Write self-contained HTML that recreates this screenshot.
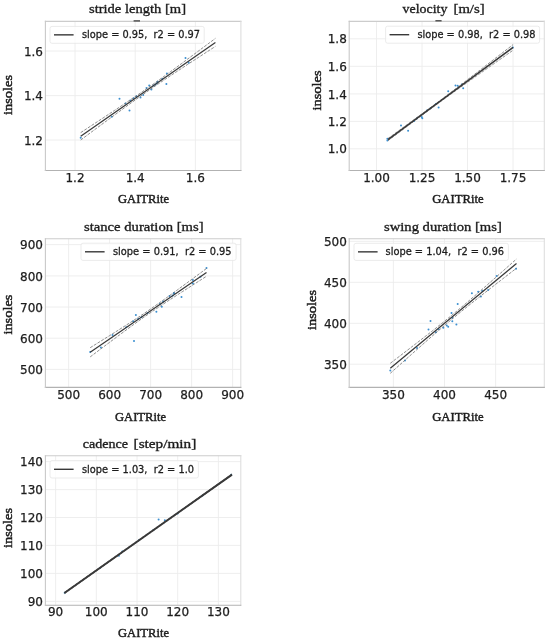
<!DOCTYPE html>
<html lang="en">
<head>
<meta charset="utf-8">
<title>Insoles vs GAITRite regression plots</title>
<style>
html,body{margin:0;padding:0;background:#fff;}
body{width:550px;height:640px;overflow:hidden;}
svg{display:block;}
.t{font-family:"Liberation Serif", "DejaVu Serif", serif;font-size:12.6px;fill:#1c1c1c;stroke:#1c1c1c;stroke-width:0.32px;}
.al{font-family:"Liberation Serif", "DejaVu Serif", serif;font-size:13.2px;fill:#1c1c1c;stroke:#1c1c1c;stroke-width:0.45px;}
.yl{font-size:13.2px;}
.tk{font-family:"DejaVu Sans", "Liberation Sans", sans-serif;font-size:12px;fill:#1c1c1c;stroke:#1c1c1c;stroke-width:0.25px;}
.lg{font-family:"DejaVu Sans", "Liberation Sans", sans-serif;font-size:9.8px;fill:#1c1c1c;stroke:#1c1c1c;stroke-width:0.28px;}
</style>
</head>
<body>
<svg width="550" height="640" viewBox="0 0 550 640">
<defs><filter id="soft" x="-2%" y="-2%" width="104%" height="104%"><feGaussianBlur stdDeviation="0.45"/></filter></defs>
<rect x="0" y="0" width="550" height="640" fill="#ffffff"/>
<g filter="url(#soft)">
<g id="p1">
<line x1="75" y1="21.4" x2="75" y2="170.5" stroke="#ececec" stroke-width="0.9"/>
<line x1="135.2" y1="21.4" x2="135.2" y2="170.5" stroke="#ececec" stroke-width="0.9"/>
<line x1="195.4" y1="21.4" x2="195.4" y2="170.5" stroke="#ececec" stroke-width="0.9"/>
<line x1="45.4" y1="140" x2="240.9" y2="140" stroke="#ececec" stroke-width="0.9"/>
<line x1="45.4" y1="95.6" x2="240.9" y2="95.6" stroke="#ececec" stroke-width="0.9"/>
<line x1="45.4" y1="51" x2="240.9" y2="51" stroke="#ececec" stroke-width="0.9"/>
<circle cx="80.7" cy="137.7" r="1" fill="#3b8fd0"/>
<circle cx="111.8" cy="116.7" r="1" fill="#3b8fd0"/>
<circle cx="119.5" cy="98.7" r="1" fill="#3b8fd0"/>
<circle cx="125.5" cy="103.6" r="1" fill="#3b8fd0"/>
<circle cx="129.5" cy="110.4" r="1" fill="#3b8fd0"/>
<circle cx="130.4" cy="100.4" r="1" fill="#3b8fd0"/>
<circle cx="133.6" cy="98.2" r="1" fill="#3b8fd0"/>
<circle cx="136.4" cy="96.3" r="1" fill="#3b8fd0"/>
<circle cx="140.5" cy="97.6" r="1" fill="#3b8fd0"/>
<circle cx="143.2" cy="94.9" r="1" fill="#3b8fd0"/>
<circle cx="146.5" cy="88.1" r="1" fill="#3b8fd0"/>
<circle cx="149.2" cy="85.4" r="1" fill="#3b8fd0"/>
<circle cx="151.4" cy="89.5" r="1" fill="#3b8fd0"/>
<circle cx="153.5" cy="85.4" r="1" fill="#3b8fd0"/>
<circle cx="155.5" cy="84.5" r="1" fill="#3b8fd0"/>
<circle cx="156.8" cy="83.2" r="1" fill="#3b8fd0"/>
<circle cx="157.6" cy="81.8" r="1" fill="#3b8fd0"/>
<circle cx="162.3" cy="79.1" r="1" fill="#3b8fd0"/>
<circle cx="166.4" cy="84" r="1" fill="#3b8fd0"/>
<circle cx="166.9" cy="73.6" r="1" fill="#3b8fd0"/>
<circle cx="185.5" cy="58.1" r="1" fill="#3b8fd0"/>
<circle cx="188.7" cy="62.7" r="1" fill="#3b8fd0"/>
<path d="M80.7 132.6 L86.31 128.94 L91.92 125.27 L97.54 121.59 L103.15 117.91 L108.76 114.22 L114.38 110.51 L119.99 106.79 L125.6 103.05 L131.21 99.28 L136.82 95.48 L142.44 91.64 L148.05 87.75 L153.66 83.81 L159.28 79.81 L164.89 75.77 L170.5 71.69 L176.11 67.58 L181.72 63.44 L187.34 59.29 L192.95 55.13 L198.56 50.96 L204.17 46.78 L209.79 42.59 L215.4 38.4" fill="none" stroke="#6a6a6a" stroke-width="0.75" stroke-dasharray="3 1.3"/>
<path d="M80.7 140 L86.31 135.84 L91.92 131.68 L97.54 127.53 L103.15 123.39 L108.76 119.26 L114.38 115.14 L119.99 111.03 L125.6 106.95 L131.21 102.89 L136.82 98.87 L142.44 94.89 L148.05 90.95 L153.66 87.07 L159.28 83.24 L164.89 79.46 L170.5 75.71 L176.11 72 L181.72 68.31 L187.34 64.63 L192.95 60.97 L198.56 57.32 L204.17 53.67 L209.79 50.03 L215.4 46.4" fill="none" stroke="#6a6a6a" stroke-width="0.75" stroke-dasharray="3 1.3"/>
<line x1="80.7" y1="136.3" x2="215.4" y2="42.4" stroke="#383838" stroke-width="1.25"/>
<line x1="45.4" y1="21.4" x2="240.9" y2="21.4" stroke="#cccccc" stroke-width="1.1" stroke-linecap="square"/>
<line x1="240.9" y1="21.4" x2="240.9" y2="170.5" stroke="#dedede" stroke-width="1.1" stroke-linecap="square"/>
<line x1="45.4" y1="170.5" x2="240.9" y2="170.5" stroke="#b2b2b2" stroke-width="1.1" stroke-linecap="square"/>
<line x1="45.4" y1="21.4" x2="45.4" y2="170.5" stroke="#c9c9c9" stroke-width="1.1" stroke-linecap="square"/>
<rect x="50" y="26.4" width="154.2" height="16.9" rx="2" ry="2" fill="#ffffff" fill-opacity="0.8" stroke="#e6e6e6" stroke-width="0.8"/>
<line x1="54" y1="34.85" x2="73.6" y2="34.85" stroke="#383838" stroke-width="1.4"/>
<text class="lg" x="82" y="38.45" textLength="118" lengthAdjust="spacingAndGlyphs" xml:space="preserve">slope = 0.95,  r2 = 0.97</text>
<text class="t" x="89" y="13.2" textLength="97" lengthAdjust="spacingAndGlyphs">stride length [m]</text>
<line x1="133.6" y1="20.9" x2="140" y2="20.9" stroke="#333" stroke-width="1.2"/>
<text class="tk" x="75" y="181.6" text-anchor="middle">1.2</text>
<text class="tk" x="135.2" y="181.6" text-anchor="middle">1.4</text>
<text class="tk" x="195.4" y="181.6" text-anchor="middle">1.6</text>
<text class="tk" x="43" y="144.6" text-anchor="end">1.2</text>
<text class="tk" x="43" y="100.2" text-anchor="end">1.4</text>
<text class="tk" x="43" y="55.6" text-anchor="end">1.6</text>
<text class="al" x="118" y="203" textLength="51" lengthAdjust="spacingAndGlyphs">GAITRite</text>
<text class="al yl" transform="translate(12.4 95) rotate(-90)" text-anchor="middle" textLength="40" lengthAdjust="spacingAndGlyphs">insoles</text>
</g>
<g id="p2">
<line x1="376.5" y1="21.4" x2="376.5" y2="170.5" stroke="#ececec" stroke-width="0.9"/>
<line x1="422" y1="21.4" x2="422" y2="170.5" stroke="#ececec" stroke-width="0.9"/>
<line x1="467.5" y1="21.4" x2="467.5" y2="170.5" stroke="#ececec" stroke-width="0.9"/>
<line x1="513" y1="21.4" x2="513" y2="170.5" stroke="#ececec" stroke-width="0.9"/>
<line x1="349.2" y1="148.8" x2="544.3" y2="148.8" stroke="#ececec" stroke-width="0.9"/>
<line x1="349.2" y1="121.4" x2="544.3" y2="121.4" stroke="#ececec" stroke-width="0.9"/>
<line x1="349.2" y1="93.9" x2="544.3" y2="93.9" stroke="#ececec" stroke-width="0.9"/>
<line x1="349.2" y1="66.3" x2="544.3" y2="66.3" stroke="#ececec" stroke-width="0.9"/>
<line x1="349.2" y1="38.8" x2="544.3" y2="38.8" stroke="#ececec" stroke-width="0.9"/>
<circle cx="387.4" cy="140.4" r="1" fill="#3b8fd0"/>
<circle cx="387.4" cy="138.7" r="1" fill="#3b8fd0"/>
<circle cx="401" cy="125.4" r="1" fill="#3b8fd0"/>
<circle cx="408.1" cy="130.8" r="1" fill="#3b8fd0"/>
<circle cx="414.1" cy="121" r="1" fill="#3b8fd0"/>
<circle cx="416.8" cy="118.5" r="1" fill="#3b8fd0"/>
<circle cx="421.7" cy="116.9" r="1" fill="#3b8fd0"/>
<circle cx="422.3" cy="118.3" r="1" fill="#3b8fd0"/>
<circle cx="426.9" cy="110.4" r="1" fill="#3b8fd0"/>
<circle cx="430.5" cy="108.2" r="1" fill="#3b8fd0"/>
<circle cx="435.9" cy="104.1" r="1" fill="#3b8fd0"/>
<circle cx="438.6" cy="107.4" r="1" fill="#3b8fd0"/>
<circle cx="448.2" cy="91.3" r="1" fill="#3b8fd0"/>
<circle cx="455.5" cy="85.5" r="1" fill="#3b8fd0"/>
<circle cx="457.7" cy="85.8" r="1" fill="#3b8fd0"/>
<circle cx="461.8" cy="84.5" r="1" fill="#3b8fd0"/>
<circle cx="463.2" cy="88.3" r="1" fill="#3b8fd0"/>
<circle cx="512.8" cy="47.6" r="1" fill="#3b8fd0"/>
<path d="M388 138.5 L393.21 134.73 L398.43 130.95 L403.64 127.17 L408.85 123.39 L414.06 119.59 L419.27 115.79 L424.49 111.98 L429.7 108.16 L434.91 104.32 L440.12 100.47 L445.34 96.56 L450.55 92.63 L455.76 88.66 L460.98 84.69 L466.19 80.7 L471.4 76.7 L476.61 72.69 L481.83 68.69 L487.04 64.68 L492.25 60.66 L497.46 56.65 L502.68 52.63 L507.89 48.62 L513.1 44.6" fill="none" stroke="#6a6a6a" stroke-width="0.75" stroke-dasharray="3 1.3"/>
<path d="M388 140.7 L393.21 136.79 L398.43 132.88 L403.64 128.98 L408.85 125.08 L414.06 121.19 L419.27 117.31 L424.49 113.44 L429.7 109.57 L434.91 105.73 L440.12 101.9 L445.34 98.12 L450.55 94.37 L455.76 90.65 L460.98 86.95 L466.19 83.25 L471.4 79.57 L476.61 75.89 L481.83 72.21 L487.04 68.54 L492.25 64.87 L497.46 61.2 L502.68 57.53 L507.89 53.87 L513.1 50.2" fill="none" stroke="#6a6a6a" stroke-width="0.75" stroke-dasharray="3 1.3"/>
<line x1="388" y1="139.6" x2="513.1" y2="47.4" stroke="#383838" stroke-width="1.6"/>
<line x1="349.2" y1="21.4" x2="544.3" y2="21.4" stroke="#cccccc" stroke-width="1.1" stroke-linecap="square"/>
<line x1="544.3" y1="21.4" x2="544.3" y2="170.5" stroke="#dedede" stroke-width="1.1" stroke-linecap="square"/>
<line x1="349.2" y1="170.5" x2="544.3" y2="170.5" stroke="#b2b2b2" stroke-width="1.1" stroke-linecap="square"/>
<line x1="349.2" y1="21.4" x2="349.2" y2="170.5" stroke="#c9c9c9" stroke-width="1.1" stroke-linecap="square"/>
<rect x="385.6" y="26.2" width="154" height="17" rx="2" ry="2" fill="#ffffff" fill-opacity="0.8" stroke="#e6e6e6" stroke-width="0.8"/>
<line x1="389.6" y1="34.7" x2="409.2" y2="34.7" stroke="#383838" stroke-width="1.4"/>
<text class="lg" x="417.4" y="38.3" textLength="118.2" lengthAdjust="spacingAndGlyphs" xml:space="preserve">slope = 0.98,  r2 = 0.98</text>
<text class="t" y="12.9"><tspan x="402.6" textLength="44.8" lengthAdjust="spacingAndGlyphs">velocity</tspan> <tspan x="453.5" textLength="31.1" lengthAdjust="spacingAndGlyphs">[m/s]</tspan></text>
<line x1="435.4" y1="20.8" x2="441.6" y2="20.8" stroke="#333" stroke-width="1.2"/>
<text class="tk" x="376.5" y="181.6" text-anchor="middle">1.00</text>
<text class="tk" x="422" y="181.6" text-anchor="middle">1.25</text>
<text class="tk" x="467.5" y="181.6" text-anchor="middle">1.50</text>
<text class="tk" x="513" y="181.6" text-anchor="middle">1.75</text>
<text class="tk" x="346.8" y="153.4" text-anchor="end">1.0</text>
<text class="tk" x="346.8" y="126" text-anchor="end">1.2</text>
<text class="tk" x="346.8" y="98.5" text-anchor="end">1.4</text>
<text class="tk" x="346.8" y="70.9" text-anchor="end">1.6</text>
<text class="tk" x="346.8" y="43.4" text-anchor="end">1.8</text>
<text class="al" x="432.2" y="203" textLength="51.4" lengthAdjust="spacingAndGlyphs">GAITRite</text>
<text class="al yl" transform="translate(321 90.5) rotate(-90)" text-anchor="middle" textLength="40" lengthAdjust="spacingAndGlyphs">insoles</text>
</g>
<g id="p3">
<line x1="68.6" y1="238.8" x2="68.6" y2="387.4" stroke="#ececec" stroke-width="0.9"/>
<line x1="109.6" y1="238.8" x2="109.6" y2="387.4" stroke="#ececec" stroke-width="0.9"/>
<line x1="150.6" y1="238.8" x2="150.6" y2="387.4" stroke="#ececec" stroke-width="0.9"/>
<line x1="191.6" y1="238.8" x2="191.6" y2="387.4" stroke="#ececec" stroke-width="0.9"/>
<line x1="232.6" y1="238.8" x2="232.6" y2="387.4" stroke="#ececec" stroke-width="0.9"/>
<line x1="45.4" y1="369.4" x2="240.8" y2="369.4" stroke="#ececec" stroke-width="0.9"/>
<line x1="45.4" y1="338.2" x2="240.8" y2="338.2" stroke="#ececec" stroke-width="0.9"/>
<line x1="45.4" y1="307" x2="240.8" y2="307" stroke="#ececec" stroke-width="0.9"/>
<line x1="45.4" y1="275.9" x2="240.8" y2="275.9" stroke="#ececec" stroke-width="0.9"/>
<line x1="45.4" y1="244.6" x2="240.8" y2="244.6" stroke="#ececec" stroke-width="0.9"/>
<circle cx="90.2" cy="352" r="1" fill="#3b8fd0"/>
<circle cx="100.9" cy="347.4" r="1" fill="#3b8fd0"/>
<circle cx="112.5" cy="335" r="1" fill="#3b8fd0"/>
<circle cx="126.2" cy="327.2" r="1" fill="#3b8fd0"/>
<circle cx="133.2" cy="321.3" r="1" fill="#3b8fd0"/>
<circle cx="135.9" cy="315" r="1" fill="#3b8fd0"/>
<circle cx="134" cy="340.9" r="1" fill="#3b8fd0"/>
<circle cx="138.1" cy="319.1" r="1" fill="#3b8fd0"/>
<circle cx="141.4" cy="317.2" r="1" fill="#3b8fd0"/>
<circle cx="147.6" cy="313.1" r="1" fill="#3b8fd0"/>
<circle cx="156.4" cy="311.7" r="1" fill="#3b8fd0"/>
<circle cx="159.9" cy="304.1" r="1" fill="#3b8fd0"/>
<circle cx="161.8" cy="306.8" r="1" fill="#3b8fd0"/>
<circle cx="163.2" cy="301.4" r="1" fill="#3b8fd0"/>
<circle cx="169.5" cy="295.9" r="1" fill="#3b8fd0"/>
<circle cx="172.7" cy="295.4" r="1" fill="#3b8fd0"/>
<circle cx="174.1" cy="293.2" r="1" fill="#3b8fd0"/>
<circle cx="173.8" cy="293.2" r="1" fill="#3b8fd0"/>
<circle cx="181.5" cy="297" r="1" fill="#3b8fd0"/>
<circle cx="192.9" cy="279.9" r="1" fill="#3b8fd0"/>
<circle cx="192.9" cy="283.4" r="1" fill="#3b8fd0"/>
<circle cx="200.5" cy="276.8" r="1" fill="#3b8fd0"/>
<circle cx="206.5" cy="268.1" r="1" fill="#3b8fd0"/>
<path d="M90.2 347.7 L95.05 344.69 L99.89 341.68 L104.74 338.66 L109.58 335.64 L114.43 332.6 L119.28 329.55 L124.12 326.48 L128.97 323.38 L133.81 320.25 L138.66 317.07 L143.5 313.84 L148.35 310.55 L153.2 307.2 L158.04 303.8 L162.89 300.37 L167.73 296.9 L172.58 293.4 L177.43 289.88 L182.27 286.34 L187.12 282.79 L191.96 279.23 L196.81 275.66 L201.65 272.08 L206.5 268.5" fill="none" stroke="#6a6a6a" stroke-width="0.75" stroke-dasharray="3 1.3"/>
<path d="M90.2 356.9 L95.05 353.25 L99.89 349.6 L104.74 345.96 L109.58 342.33 L114.43 338.71 L119.28 335.1 L124.12 331.52 L128.97 327.95 L133.81 324.43 L138.66 320.94 L143.5 317.51 L148.35 314.15 L153.2 310.84 L158.04 307.58 L162.89 304.36 L167.73 301.17 L172.58 298.01 L177.43 294.87 L182.27 291.75 L187.12 288.64 L191.96 285.55 L196.81 282.46 L201.65 279.38 L206.5 276.3" fill="none" stroke="#6a6a6a" stroke-width="0.75" stroke-dasharray="3 1.3"/>
<line x1="90.2" y1="352.3" x2="206.5" y2="272.4" stroke="#383838" stroke-width="1.25"/>
<line x1="45.4" y1="238.8" x2="240.8" y2="238.8" stroke="#cccccc" stroke-width="1.1" stroke-linecap="square"/>
<line x1="240.8" y1="238.8" x2="240.8" y2="387.4" stroke="#dedede" stroke-width="1.1" stroke-linecap="square"/>
<line x1="45.4" y1="387.4" x2="240.8" y2="387.4" stroke="#b2b2b2" stroke-width="1.1" stroke-linecap="square"/>
<line x1="45.4" y1="238.8" x2="45.4" y2="387.4" stroke="#c9c9c9" stroke-width="1.1" stroke-linecap="square"/>
<rect x="81" y="243.2" width="155.1" height="17.2" rx="2" ry="2" fill="#ffffff" fill-opacity="0.8" stroke="#e6e6e6" stroke-width="0.8"/>
<line x1="85" y1="251.8" x2="104.6" y2="251.8" stroke="#383838" stroke-width="1.4"/>
<text class="lg" x="113" y="255.4" textLength="118.6" lengthAdjust="spacingAndGlyphs" xml:space="preserve">slope = 0.91,  r2 = 0.95</text>
<text class="t" x="84" y="230.5" textLength="119.6" lengthAdjust="spacingAndGlyphs">stance duration [ms]</text>
<text class="tk" x="68.6" y="398.5" text-anchor="middle">500</text>
<text class="tk" x="109.6" y="398.5" text-anchor="middle">600</text>
<text class="tk" x="150.6" y="398.5" text-anchor="middle">700</text>
<text class="tk" x="191.6" y="398.5" text-anchor="middle">800</text>
<text class="tk" x="232.6" y="398.5" text-anchor="middle">900</text>
<text class="tk" x="43" y="374" text-anchor="end">500</text>
<text class="tk" x="43" y="342.8" text-anchor="end">600</text>
<text class="tk" x="43" y="311.6" text-anchor="end">700</text>
<text class="tk" x="43" y="280.5" text-anchor="end">800</text>
<text class="tk" x="43" y="249.2" text-anchor="end">900</text>
<text class="al" x="115" y="421" textLength="51" lengthAdjust="spacingAndGlyphs">GAITRite</text>
<text class="al yl" transform="translate(12.4 314.6) rotate(-90)" text-anchor="middle" textLength="40" lengthAdjust="spacingAndGlyphs">insoles</text>
</g>
<g id="p4">
<line x1="393.4" y1="238.8" x2="393.4" y2="387.4" stroke="#ececec" stroke-width="0.9"/>
<line x1="444.5" y1="238.8" x2="444.5" y2="387.4" stroke="#ececec" stroke-width="0.9"/>
<line x1="495.6" y1="238.8" x2="495.6" y2="387.4" stroke="#ececec" stroke-width="0.9"/>
<line x1="349.2" y1="364.2" x2="544.3" y2="364.2" stroke="#ececec" stroke-width="0.9"/>
<line x1="349.2" y1="323.3" x2="544.3" y2="323.3" stroke="#ececec" stroke-width="0.9"/>
<line x1="349.2" y1="282.3" x2="544.3" y2="282.3" stroke="#ececec" stroke-width="0.9"/>
<line x1="349.2" y1="241.3" x2="544.3" y2="241.3" stroke="#ececec" stroke-width="0.9"/>
<circle cx="390.3" cy="370.4" r="1" fill="#3b8fd0"/>
<circle cx="405" cy="360.6" r="1" fill="#3b8fd0"/>
<circle cx="417" cy="347.9" r="1" fill="#3b8fd0"/>
<circle cx="428.5" cy="329.5" r="1" fill="#3b8fd0"/>
<circle cx="430.5" cy="321" r="1" fill="#3b8fd0"/>
<circle cx="435.9" cy="332.2" r="1" fill="#3b8fd0"/>
<circle cx="438.6" cy="329.2" r="1" fill="#3b8fd0"/>
<circle cx="443.3" cy="327.8" r="1" fill="#3b8fd0"/>
<circle cx="446.8" cy="325.4" r="1" fill="#3b8fd0"/>
<circle cx="448.2" cy="326.7" r="1" fill="#3b8fd0"/>
<circle cx="451.5" cy="313.1" r="1" fill="#3b8fd0"/>
<circle cx="452.3" cy="317.7" r="1" fill="#3b8fd0"/>
<circle cx="452.3" cy="321.3" r="1" fill="#3b8fd0"/>
<circle cx="456.4" cy="324.5" r="1" fill="#3b8fd0"/>
<circle cx="457.7" cy="304.1" r="1" fill="#3b8fd0"/>
<circle cx="471.9" cy="293.2" r="1" fill="#3b8fd0"/>
<circle cx="478.2" cy="291.8" r="1" fill="#3b8fd0"/>
<circle cx="480.9" cy="296.5" r="1" fill="#3b8fd0"/>
<circle cx="482.2" cy="290.9" r="1" fill="#3b8fd0"/>
<circle cx="488.2" cy="290.1" r="1" fill="#3b8fd0"/>
<circle cx="496.6" cy="276" r="1" fill="#3b8fd0"/>
<circle cx="516" cy="268.8" r="1" fill="#3b8fd0"/>
<path d="M390.3 363.3 L395.56 359.28 L400.82 355.26 L406.07 351.24 L411.33 347.2 L416.59 343.15 L421.85 339.08 L427.11 335 L432.37 330.88 L437.62 326.73 L442.88 322.53 L448.14 318.28 L453.4 313.95 L458.66 309.56 L463.92 305.11 L469.18 300.61 L474.43 296.07 L479.69 291.5 L484.95 286.9 L490.21 282.28 L495.47 277.64 L500.73 272.99 L505.98 268.34 L511.24 263.67 L516.5 259" fill="none" stroke="#6a6a6a" stroke-width="0.75" stroke-dasharray="3 1.3"/>
<path d="M390.3 373.3 L395.56 368.59 L400.82 363.89 L406.07 359.19 L411.33 354.5 L416.59 349.83 L421.85 345.17 L427.11 340.53 L432.37 335.92 L437.62 331.34 L442.88 326.82 L448.14 322.35 L453.4 317.95 L458.66 313.62 L463.92 309.34 L469.18 305.11 L474.43 300.93 L479.69 296.78 L484.95 292.65 L490.21 288.55 L495.47 284.46 L500.73 280.38 L505.98 276.31 L511.24 272.25 L516.5 268.2" fill="none" stroke="#6a6a6a" stroke-width="0.75" stroke-dasharray="3 1.3"/>
<line x1="390.3" y1="368.3" x2="516.5" y2="263.6" stroke="#383838" stroke-width="1.25"/>
<line x1="349.2" y1="238.8" x2="544.3" y2="238.8" stroke="#cccccc" stroke-width="1.1" stroke-linecap="square"/>
<line x1="544.3" y1="238.8" x2="544.3" y2="387.4" stroke="#dedede" stroke-width="1.1" stroke-linecap="square"/>
<line x1="349.2" y1="387.4" x2="544.3" y2="387.4" stroke="#b2b2b2" stroke-width="1.1" stroke-linecap="square"/>
<line x1="349.2" y1="238.8" x2="349.2" y2="387.4" stroke="#c9c9c9" stroke-width="1.1" stroke-linecap="square"/>
<rect x="354" y="243.3" width="154.4" height="17.1" rx="2" ry="2" fill="#ffffff" fill-opacity="0.8" stroke="#e6e6e6" stroke-width="0.8"/>
<line x1="358" y1="251.85" x2="377.6" y2="251.85" stroke="#383838" stroke-width="1.4"/>
<text class="lg" x="385.6" y="255.45" textLength="118.4" lengthAdjust="spacingAndGlyphs" xml:space="preserve">slope = 1.04,  r2 = 0.96</text>
<text class="t" x="384" y="230.5" textLength="117.8" lengthAdjust="spacingAndGlyphs">swing duration [ms]</text>
<text class="tk" x="393.4" y="398.5" text-anchor="middle">350</text>
<text class="tk" x="444.5" y="398.5" text-anchor="middle">400</text>
<text class="tk" x="495.6" y="398.5" text-anchor="middle">450</text>
<text class="tk" x="346.8" y="368.8" text-anchor="end">350</text>
<text class="tk" x="346.8" y="327.9" text-anchor="end">400</text>
<text class="tk" x="346.8" y="286.9" text-anchor="end">450</text>
<text class="tk" x="346.8" y="245.9" text-anchor="end">500</text>
<text class="al" x="432.2" y="421" textLength="51.4" lengthAdjust="spacingAndGlyphs">GAITRite</text>
<text class="al yl" transform="translate(316.4 310) rotate(-90)" text-anchor="middle" textLength="40" lengthAdjust="spacingAndGlyphs">insoles</text>
</g>
<g id="p5">
<line x1="55.6" y1="455.7" x2="55.6" y2="605.3" stroke="#ececec" stroke-width="0.9"/>
<line x1="96.3" y1="455.7" x2="96.3" y2="605.3" stroke="#ececec" stroke-width="0.9"/>
<line x1="137" y1="455.7" x2="137" y2="605.3" stroke="#ececec" stroke-width="0.9"/>
<line x1="177.7" y1="455.7" x2="177.7" y2="605.3" stroke="#ececec" stroke-width="0.9"/>
<line x1="218.4" y1="455.7" x2="218.4" y2="605.3" stroke="#ececec" stroke-width="0.9"/>
<line x1="45.4" y1="601.4" x2="240.8" y2="601.4" stroke="#ececec" stroke-width="0.9"/>
<line x1="45.4" y1="573.4" x2="240.8" y2="573.4" stroke="#ececec" stroke-width="0.9"/>
<line x1="45.4" y1="545.4" x2="240.8" y2="545.4" stroke="#ececec" stroke-width="0.9"/>
<line x1="45.4" y1="517.5" x2="240.8" y2="517.5" stroke="#ececec" stroke-width="0.9"/>
<line x1="45.4" y1="489.6" x2="240.8" y2="489.6" stroke="#ececec" stroke-width="0.9"/>
<line x1="45.4" y1="461.6" x2="240.8" y2="461.6" stroke="#ececec" stroke-width="0.9"/>
<circle cx="64.7" cy="592.8" r="1" fill="#3b8fd0"/>
<circle cx="99.9" cy="567.9" r="1" fill="#3b8fd0"/>
<circle cx="118.9" cy="555.8" r="1" fill="#3b8fd0"/>
<circle cx="122.4" cy="551.4" r="1" fill="#3b8fd0"/>
<circle cx="138.9" cy="540.3" r="1" fill="#3b8fd0"/>
<circle cx="153.4" cy="529.9" r="1" fill="#3b8fd0"/>
<circle cx="158.6" cy="519.6" r="1" fill="#3b8fd0"/>
<circle cx="164.8" cy="520.3" r="1" fill="#3b8fd0"/>
<circle cx="177.6" cy="513.4" r="1" fill="#3b8fd0"/>
<circle cx="202.5" cy="495.4" r="1" fill="#3b8fd0"/>
<circle cx="231.2" cy="474.7" r="1" fill="#3b8fd0"/>
<path d="M64.4 592.3 L71.38 587.38 L78.37 582.46 L85.35 577.54 L92.33 572.62 L99.32 567.7 L106.3 562.77 L113.28 557.85 L120.27 552.92 L127.25 547.99 L134.23 543.06 L141.22 538.13 L148.2 533.2 L155.18 528.27 L162.17 523.33 L169.15 518.39 L176.13 513.45 L183.12 508.51 L190.1 503.57 L197.08 498.63 L204.07 493.69 L211.05 488.74 L218.03 483.8 L225.02 478.85 L232 473.9" fill="none" stroke="#6a6a6a" stroke-width="0.75" stroke-dasharray="3 1.3"/>
<path d="M64.4 593.7 L71.38 588.75 L78.37 583.8 L85.35 578.86 L92.33 573.91 L99.32 568.97 L106.3 564.03 L113.28 559.09 L120.27 554.15 L127.25 549.21 L134.23 544.27 L141.22 539.33 L148.2 534.4 L155.18 529.47 L162.17 524.54 L169.15 519.61 L176.13 514.68 L183.12 509.75 L190.1 504.83 L197.08 499.9 L204.07 494.98 L211.05 490.06 L218.03 485.14 L225.02 480.22 L232 475.3" fill="none" stroke="#6a6a6a" stroke-width="0.75" stroke-dasharray="3 1.3"/>
<line x1="64.4" y1="593" x2="232" y2="474.6" stroke="#383838" stroke-width="1.9"/>
<line x1="45.4" y1="455.7" x2="240.8" y2="455.7" stroke="#cccccc" stroke-width="1.1" stroke-linecap="square"/>
<line x1="240.8" y1="455.7" x2="240.8" y2="605.3" stroke="#dedede" stroke-width="1.1" stroke-linecap="square"/>
<line x1="45.4" y1="605.3" x2="240.8" y2="605.3" stroke="#b2b2b2" stroke-width="1.1" stroke-linecap="square"/>
<line x1="45.4" y1="455.7" x2="45.4" y2="605.3" stroke="#c9c9c9" stroke-width="1.1" stroke-linecap="square"/>
<rect x="50" y="460.6" width="148.4" height="17.4" rx="2" ry="2" fill="#ffffff" fill-opacity="0.8" stroke="#e6e6e6" stroke-width="0.8"/>
<line x1="54" y1="469.3" x2="73.6" y2="469.3" stroke="#383838" stroke-width="1.4"/>
<text class="lg" x="82" y="472.9" textLength="112" lengthAdjust="spacingAndGlyphs" xml:space="preserve">slope = 1.03,  r2 = 1.0</text>
<text class="t" y="447.5"><tspan x="82.7" textLength="45.3" lengthAdjust="spacingAndGlyphs">cadence</tspan> <tspan x="133.6" textLength="62.7" lengthAdjust="spacingAndGlyphs">[step/min]</tspan></text>
<text class="tk" x="55.6" y="616.4" text-anchor="middle">90</text>
<text class="tk" x="96.3" y="616.4" text-anchor="middle">100</text>
<text class="tk" x="137" y="616.4" text-anchor="middle">110</text>
<text class="tk" x="177.7" y="616.4" text-anchor="middle">120</text>
<text class="tk" x="218.4" y="616.4" text-anchor="middle">130</text>
<text class="tk" x="43" y="606" text-anchor="end">90</text>
<text class="tk" x="43" y="578" text-anchor="end">100</text>
<text class="tk" x="43" y="550" text-anchor="end">110</text>
<text class="tk" x="43" y="522.1" text-anchor="end">120</text>
<text class="tk" x="43" y="494.2" text-anchor="end">130</text>
<text class="tk" x="43" y="466.2" text-anchor="end">140</text>
<text class="al" x="118" y="636.6" textLength="51" lengthAdjust="spacingAndGlyphs">GAITRite</text>
<text class="al yl" transform="translate(12.4 528) rotate(-90)" text-anchor="middle" textLength="40" lengthAdjust="spacingAndGlyphs">insoles</text>
</g>
</g>
</svg>
</body>
</html>
